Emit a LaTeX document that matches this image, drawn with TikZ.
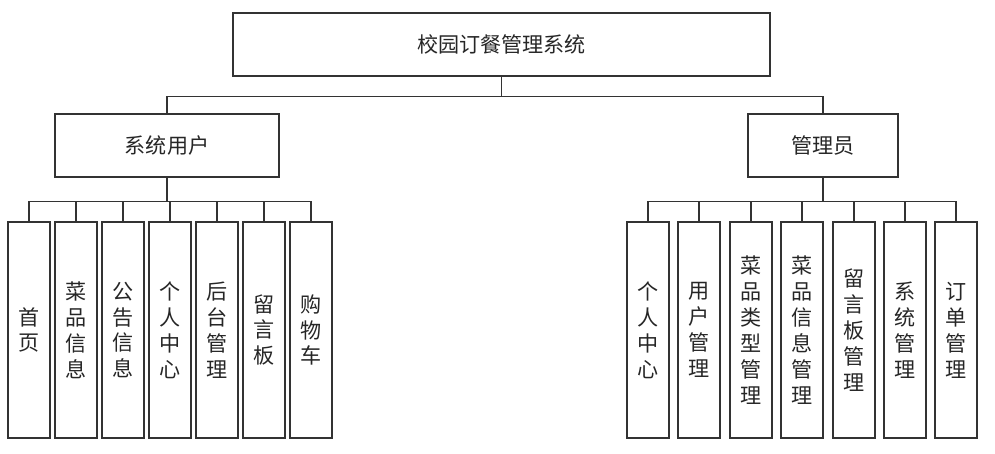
\documentclass[tikz,border=0pt]{standalone}
\usepackage{fontspec}
\newfontfamily\cjk{Noto Sans CJK SC}
\usepackage{tikz}

\begin{document}
\begin{tikzpicture}[line cap=round,font=\cjk\fontsize{12}{14.75}\selectfont,
  box/.style={draw=black!80,line width=0.6pt,inner sep=0pt,text=black!85},
  headbox/.style={box,minimum width=10.74cm,minimum height=1.26cm},
  rolebox/.style={box,minimum height=1.26cm},
  leafbox/.style={box,minimum width=0.84cm,minimum height=4.32cm,align=center},
  link/.style={draw=black!80,line width=0.6pt}]
\useasboundingbox (0,0) rectangle (19.9,9.06);
\node[headbox] (sys) at (10.03,8.17) {校园订餐管理系统};
\node[rolebox,minimum width=4.48cm] (user) at (3.34,6.15) {系统用户};
\node[rolebox,minimum width=3.0cm] (admin) at (16.46,6.15) {管理员};
% user side
\node[leafbox] (u1) at (0.58,2.46) {首\\页};
\node[leafbox] (u2) at (1.52,2.46) {菜\\品\\信\\息};
\node[leafbox] (u3) at (2.46,2.46) {公\\告\\信\\息};
\node[leafbox] (u4) at (3.40,2.46) {个\\人\\中\\心};
\node[leafbox] (u5) at (4.34,2.46) {后\\台\\管\\理};
\node[leafbox] (u6) at (5.28,2.46) {留\\言\\板};
\node[leafbox] (u7) at (6.22,2.46) {购\\物\\车};
% admin side
\node[leafbox] (a1) at (12.96,2.46) {个\\人\\中\\心};
\node[leafbox] (a2) at (13.98,2.46) {用\\户\\管\\理};
\node[leafbox] (a3) at (15.02,2.46) {菜\\品\\类\\型\\管\\理};
\node[leafbox] (a4) at (16.04,2.46) {菜\\品\\信\\息\\管\\理};
\node[leafbox] (a5) at (17.08,2.46) {留\\言\\板\\管\\理};
\node[leafbox] (a6) at (18.10,2.46) {系\\统\\管\\理};
\node[leafbox] (a7) at (19.12,2.46) {订\\单\\管\\理};
% links
\draw[link] (sys.south) -- ++(0,-0.4) -| (user.north);
\draw[link] (sys.south) -- ++(0,-0.4) -| (admin.north);
\draw[link] (user.south) -- ++(0,-0.48) -| (u1.north);
\draw[link] (user.south) -- ++(0,-0.48) -| (u2.north);
\draw[link] (user.south) -- ++(0,-0.48) -| (u3.north);
\draw[link] (user.south) -- ++(0,-0.48) -| (u4.north);
\draw[link] (user.south) -- ++(0,-0.48) -| (u5.north);
\draw[link] (user.south) -- ++(0,-0.48) -| (u6.north);
\draw[link] (user.south) -- ++(0,-0.48) -| (u7.north);
\draw[link] (admin.south) -- ++(0,-0.48) -| (a1.north);
\draw[link] (admin.south) -- ++(0,-0.48) -| (a2.north);
\draw[link] (admin.south) -- ++(0,-0.48) -| (a3.north);
\draw[link] (admin.south) -- ++(0,-0.48) -| (a4.north);
\draw[link] (admin.south) -- ++(0,-0.48) -| (a5.north);
\draw[link] (admin.south) -- ++(0,-0.48) -| (a6.north);
\draw[link] (admin.south) -- ++(0,-0.48) -| (a7.north);
\end{tikzpicture}
\end{document}
